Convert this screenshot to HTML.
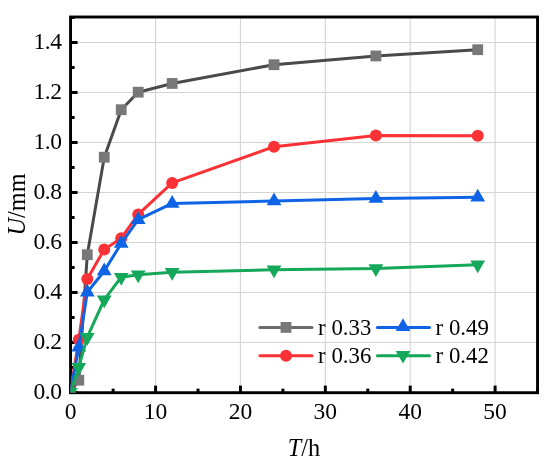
<!DOCTYPE html><html><head><meta charset="utf-8"><title>chart</title><style>html,body{margin:0;padding:0;background:#fff}svg{display:block}text{font-family:"Liberation Serif","Times New Roman",serif;fill:#000}</style></head><body>
<svg width="550" height="463" viewBox="0 0 550 463">
<rect width="550" height="463" fill="#fff"/>
<line x1="155.58" y1="17.50" x2="155.58" y2="392.50" stroke="#d4d4d4" stroke-width="1.15"/>
<line x1="240.46" y1="17.50" x2="240.46" y2="392.50" stroke="#d4d4d4" stroke-width="1.15"/>
<line x1="325.34" y1="17.50" x2="325.34" y2="392.50" stroke="#d4d4d4" stroke-width="1.15"/>
<line x1="410.22" y1="17.50" x2="410.22" y2="392.50" stroke="#d4d4d4" stroke-width="1.15"/>
<line x1="495.10" y1="17.50" x2="495.10" y2="392.50" stroke="#d4d4d4" stroke-width="1.15"/>
<line x1="70.70" y1="342.50" x2="537.54" y2="342.50" stroke="#d4d4d4" stroke-width="1.15"/>
<line x1="70.70" y1="292.50" x2="537.54" y2="292.50" stroke="#d4d4d4" stroke-width="1.15"/>
<line x1="70.70" y1="242.50" x2="537.54" y2="242.50" stroke="#d4d4d4" stroke-width="1.15"/>
<line x1="70.70" y1="192.50" x2="537.54" y2="192.50" stroke="#d4d4d4" stroke-width="1.15"/>
<line x1="70.70" y1="142.50" x2="537.54" y2="142.50" stroke="#d4d4d4" stroke-width="1.15"/>
<line x1="70.70" y1="92.50" x2="537.54" y2="92.50" stroke="#d4d4d4" stroke-width="1.15"/>
<line x1="70.70" y1="42.50" x2="537.54" y2="42.50" stroke="#d4d4d4" stroke-width="1.15"/>
<line x1="70.70" y1="392.50" x2="70.70" y2="385.60" stroke="#000" stroke-width="3"/>
<line x1="113.14" y1="392.50" x2="113.14" y2="388.60" stroke="#000" stroke-width="3"/>
<line x1="155.58" y1="392.50" x2="155.58" y2="385.60" stroke="#000" stroke-width="3"/>
<line x1="198.02" y1="392.50" x2="198.02" y2="388.60" stroke="#000" stroke-width="3"/>
<line x1="240.46" y1="392.50" x2="240.46" y2="385.60" stroke="#000" stroke-width="3"/>
<line x1="282.90" y1="392.50" x2="282.90" y2="388.60" stroke="#000" stroke-width="3"/>
<line x1="325.34" y1="392.50" x2="325.34" y2="385.60" stroke="#000" stroke-width="3"/>
<line x1="367.78" y1="392.50" x2="367.78" y2="388.60" stroke="#000" stroke-width="3"/>
<line x1="410.22" y1="392.50" x2="410.22" y2="385.60" stroke="#000" stroke-width="3"/>
<line x1="452.66" y1="392.50" x2="452.66" y2="388.60" stroke="#000" stroke-width="3"/>
<line x1="495.10" y1="392.50" x2="495.10" y2="385.60" stroke="#000" stroke-width="3"/>
<line x1="537.54" y1="392.50" x2="537.54" y2="388.60" stroke="#000" stroke-width="3"/>
<line x1="70.70" y1="392.50" x2="77.60" y2="392.50" stroke="#000" stroke-width="3"/>
<line x1="70.70" y1="367.50" x2="74.60" y2="367.50" stroke="#000" stroke-width="3"/>
<line x1="70.70" y1="342.50" x2="77.60" y2="342.50" stroke="#000" stroke-width="3"/>
<line x1="70.70" y1="317.50" x2="74.60" y2="317.50" stroke="#000" stroke-width="3"/>
<line x1="70.70" y1="292.50" x2="77.60" y2="292.50" stroke="#000" stroke-width="3"/>
<line x1="70.70" y1="267.50" x2="74.60" y2="267.50" stroke="#000" stroke-width="3"/>
<line x1="70.70" y1="242.50" x2="77.60" y2="242.50" stroke="#000" stroke-width="3"/>
<line x1="70.70" y1="217.50" x2="74.60" y2="217.50" stroke="#000" stroke-width="3"/>
<line x1="70.70" y1="192.50" x2="77.60" y2="192.50" stroke="#000" stroke-width="3"/>
<line x1="70.70" y1="167.50" x2="74.60" y2="167.50" stroke="#000" stroke-width="3"/>
<line x1="70.70" y1="142.50" x2="77.60" y2="142.50" stroke="#000" stroke-width="3"/>
<line x1="70.70" y1="117.50" x2="74.60" y2="117.50" stroke="#000" stroke-width="3"/>
<line x1="70.70" y1="92.50" x2="77.60" y2="92.50" stroke="#000" stroke-width="3"/>
<line x1="70.70" y1="67.50" x2="74.60" y2="67.50" stroke="#000" stroke-width="3"/>
<line x1="70.70" y1="42.50" x2="77.60" y2="42.50" stroke="#000" stroke-width="3"/>
<line x1="70.70" y1="17.50" x2="74.60" y2="17.50" stroke="#000" stroke-width="3"/>
<rect x="70.55" y="17.00" width="466.99" height="375.70" fill="none" stroke="#000" stroke-width="2.9"/>
<clipPath id="c"><rect x="70.70" y="17.50" width="466.84" height="375.00"/></clipPath>
<g clip-path="url(#c)"><g transform="translate(-0.4,-0.3)">
<polyline points="70.70,392.50 79.19,380.50 87.68,255.00 104.65,157.50 121.63,110.00 138.60,92.50 172.56,83.75 274.41,65.00 376.27,56.25 478.12,50.00" fill="none" stroke="#4a4a4a" stroke-width="3" stroke-linejoin="round" stroke-linecap="round"/>
<rect x="65.30" y="387.10" width="10.8" height="10.8" fill="#787878"/>
<rect x="73.79" y="375.10" width="10.8" height="10.8" fill="#787878"/>
<rect x="82.28" y="249.60" width="10.8" height="10.8" fill="#787878"/>
<rect x="99.25" y="152.10" width="10.8" height="10.8" fill="#787878"/>
<rect x="116.23" y="104.60" width="10.8" height="10.8" fill="#787878"/>
<rect x="133.20" y="87.10" width="10.8" height="10.8" fill="#787878"/>
<rect x="167.16" y="78.35" width="10.8" height="10.8" fill="#787878"/>
<rect x="269.01" y="59.60" width="10.8" height="10.8" fill="#787878"/>
<rect x="370.87" y="50.85" width="10.8" height="10.8" fill="#787878"/>
<rect x="472.72" y="44.60" width="10.8" height="10.8" fill="#787878"/>
<polyline points="70.70,392.50 79.19,340.00 87.68,279.25 104.65,249.75 121.63,238.50 138.60,214.75 172.56,183.25 274.41,147.00 376.27,135.75 478.12,136.00" fill="none" stroke="#fa3236" stroke-width="3" stroke-linejoin="round" stroke-linecap="round"/>
<circle cx="70.70" cy="392.50" r="6" fill="#fa3236"/>
<circle cx="79.19" cy="340.00" r="6" fill="#fa3236"/>
<circle cx="87.68" cy="279.25" r="6" fill="#fa3236"/>
<circle cx="104.65" cy="249.75" r="6" fill="#fa3236"/>
<circle cx="121.63" cy="238.50" r="6" fill="#fa3236"/>
<circle cx="138.60" cy="214.75" r="6" fill="#fa3236"/>
<circle cx="172.56" cy="183.25" r="6" fill="#fa3236"/>
<circle cx="274.41" cy="147.00" r="6" fill="#fa3236"/>
<circle cx="376.27" cy="135.75" r="6" fill="#fa3236"/>
<circle cx="478.12" cy="136.00" r="6" fill="#fa3236"/>
<polyline points="70.70,392.50 79.19,347.50 87.68,292.50 104.65,271.25 121.63,243.75 138.60,220.00 172.56,203.75 274.41,201.25 376.27,198.75 478.12,197.50" fill="none" stroke="#0f64e6" stroke-width="3" stroke-linejoin="round" stroke-linecap="round"/>
<polygon points="70.70,384.00 63.30,396.70 78.10,396.70" fill="#0f64e6"/>
<polygon points="79.19,339.00 71.79,351.70 86.59,351.70" fill="#0f64e6"/>
<polygon points="87.68,284.00 80.28,296.70 95.08,296.70" fill="#0f64e6"/>
<polygon points="104.65,262.75 97.25,275.45 112.05,275.45" fill="#0f64e6"/>
<polygon points="121.63,235.25 114.23,247.95 129.03,247.95" fill="#0f64e6"/>
<polygon points="138.60,211.50 131.20,224.20 146.00,224.20" fill="#0f64e6"/>
<polygon points="172.56,195.25 165.16,207.95 179.96,207.95" fill="#0f64e6"/>
<polygon points="274.41,192.75 267.01,205.45 281.81,205.45" fill="#0f64e6"/>
<polygon points="376.27,190.25 368.87,202.95 383.67,202.95" fill="#0f64e6"/>
<polygon points="478.12,189.00 470.72,201.70 485.52,201.70" fill="#0f64e6"/>
<polyline points="70.70,392.50 79.19,367.50 87.68,337.50 104.65,300.00 121.63,277.50 138.60,275.00 172.56,272.50 274.41,270.00 376.27,268.75 478.12,265.00" fill="none" stroke="#16a85a" stroke-width="3" stroke-linejoin="round" stroke-linecap="round"/>
<polygon points="70.70,401.00 63.30,388.30 78.10,388.30" fill="#16a85a"/>
<polygon points="79.19,376.00 71.79,363.30 86.59,363.30" fill="#16a85a"/>
<polygon points="87.68,346.00 80.28,333.30 95.08,333.30" fill="#16a85a"/>
<polygon points="104.65,308.50 97.25,295.80 112.05,295.80" fill="#16a85a"/>
<polygon points="121.63,286.00 114.23,273.30 129.03,273.30" fill="#16a85a"/>
<polygon points="138.60,283.50 131.20,270.80 146.00,270.80" fill="#16a85a"/>
<polygon points="172.56,281.00 165.16,268.30 179.96,268.30" fill="#16a85a"/>
<polygon points="274.41,278.50 267.01,265.80 281.81,265.80" fill="#16a85a"/>
<polygon points="376.27,277.25 368.87,264.55 383.67,264.55" fill="#16a85a"/>
<polygon points="478.12,273.50 470.72,260.80 485.52,260.80" fill="#16a85a"/>
</g></g>
<text x="70.70" y="419.3" font-size="23.5" text-anchor="middle">0</text>
<text x="155.58" y="419.3" font-size="23.5" text-anchor="middle">10</text>
<text x="240.46" y="419.3" font-size="23.5" text-anchor="middle">20</text>
<text x="325.34" y="419.3" font-size="23.5" text-anchor="middle">30</text>
<text x="410.22" y="419.3" font-size="23.5" text-anchor="middle">40</text>
<text x="495.10" y="419.3" font-size="23.5" text-anchor="middle">50</text>
<text x="61.4" y="399.20" font-size="23.5" letter-spacing="-0.5" text-anchor="end">0.0</text>
<text x="61.4" y="349.20" font-size="23.5" letter-spacing="-0.5" text-anchor="end">0.2</text>
<text x="61.4" y="299.20" font-size="23.5" letter-spacing="-0.5" text-anchor="end">0.4</text>
<text x="61.4" y="249.20" font-size="23.5" letter-spacing="-0.5" text-anchor="end">0.6</text>
<text x="61.4" y="199.20" font-size="23.5" letter-spacing="-0.5" text-anchor="end">0.8</text>
<text x="61.4" y="149.20" font-size="23.5" letter-spacing="-0.5" text-anchor="end">1.0</text>
<text x="61.4" y="99.20" font-size="23.5" letter-spacing="-0.5" text-anchor="end">1.2</text>
<text x="61.4" y="49.20" font-size="23.5" letter-spacing="-0.5" text-anchor="end">1.4</text>
<text x="304.0" y="455.5" font-size="24.3" text-anchor="middle"><tspan font-style="italic">T</tspan>/h</text>
<text transform="translate(24.6,204.5) rotate(-90)" font-size="24.3" text-anchor="middle"><tspan font-style="italic">U</tspan>/mm</text>
<line x1="259.90" y1="327.40" x2="312.00" y2="327.40" stroke="#6c6c6c" stroke-width="3" stroke-linecap="round"/>
<rect x="280.60" y="322.00" width="10.8" height="10.8" fill="#787878"/>
<text x="318.10" y="334.80" font-size="22.8">r 0.33</text>
<line x1="259.90" y1="355.70" x2="312.00" y2="355.70" stroke="#fa3236" stroke-width="3" stroke-linecap="round"/>
<circle cx="286.00" cy="355.70" r="6" fill="#fa3236"/>
<text x="318.10" y="363.10" font-size="22.8">r 0.36</text>
<line x1="377.40" y1="327.40" x2="429.50" y2="327.40" stroke="#0f64e6" stroke-width="3" stroke-linecap="round"/>
<polygon points="403.00,318.30 395.60,331.00 410.40,331.00" fill="#0f64e6"/>
<text x="435.60" y="334.80" font-size="22.8">r 0.49</text>
<line x1="377.40" y1="355.70" x2="429.50" y2="355.70" stroke="#16a85a" stroke-width="3" stroke-linecap="round"/>
<polygon points="403.00,363.60 395.60,350.90 410.40,350.90" fill="#16a85a"/>
<text x="435.60" y="363.10" font-size="22.8">r 0.42</text>
</svg></body></html>
